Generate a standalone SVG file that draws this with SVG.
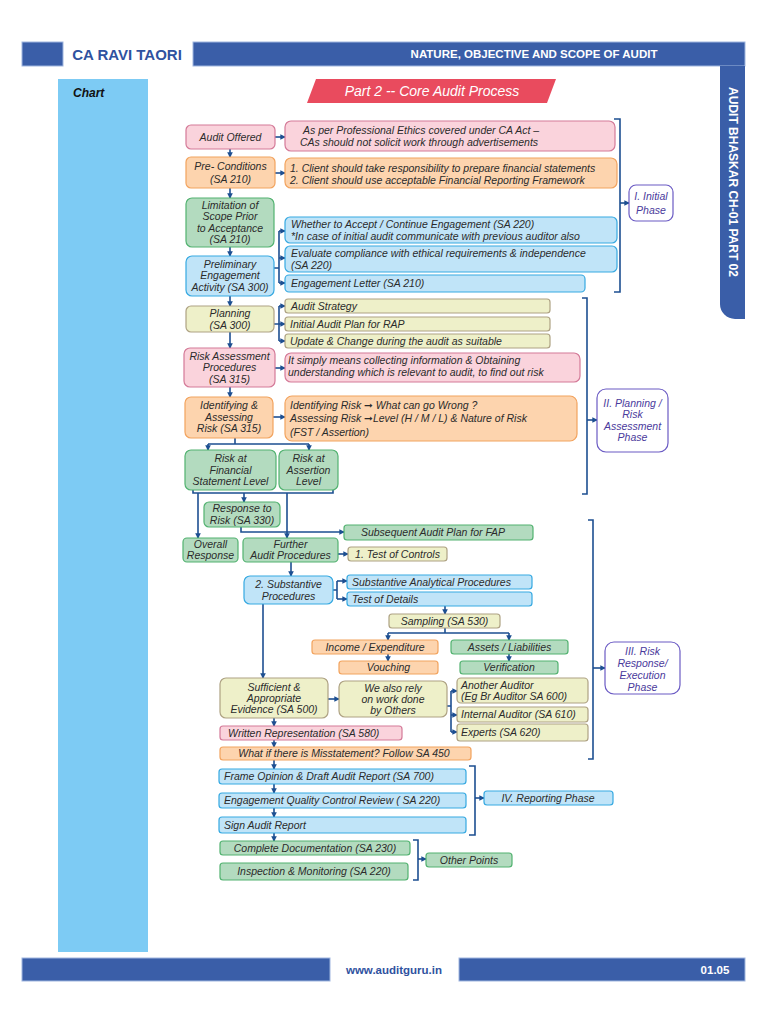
<svg xmlns="http://www.w3.org/2000/svg" width="768" height="1024" viewBox="0 0 768 1024">
<defs>
<marker id="a" viewBox="0 0 6 6" refX="5" refY="3" markerWidth="3.5" markerHeight="3.5" orient="auto"><path d="M0,0 L6,3 L0,6z" fill="#1d4f91"/></marker>
<style>
.t{font-family:"Liberation Sans",Arial,"DejaVu Sans",sans-serif;font-style:italic;font-size:10.5px;fill:#2b2b2b}
.m{text-anchor:middle}
.pk{fill:#fad3dc;stroke:#d47a98;stroke-width:1.2}
.or{fill:#fdd4ae;stroke:#f2a35e;stroke-width:1.2}
.gr{fill:#b3dbbf;stroke:#52b270;stroke-width:1.2}
.bl{fill:#c0e4f8;stroke:#36a9e1;stroke-width:1.2}
.yl{fill:#eef0c9;stroke:#aea283;stroke-width:1.2}
.ph{fill:#fff;stroke:#6b5bc4;stroke-width:1.2}
.pt{fill:#4a3a9c}
.cn path{fill:none;stroke:#1d4f91;stroke-width:1.6}
.ar{marker-end:url(#a)}
.hd{font-family:"Liberation Sans",Arial,sans-serif;font-weight:bold}
.ttl{font-family:"Liberation Sans",Arial,sans-serif;font-style:italic;font-size:14px;fill:#fff;text-anchor:middle}
</style>
</defs>
<rect width="768" height="1024" fill="#fff"/>
<!-- header -->
<g id="header">
<rect x="22" y="42" width="41" height="24" fill="#3a5ea8" stroke="#9fb6df" stroke-width="1"/>
<rect x="193" y="42" width="552" height="24" fill="#3a5ea8" stroke="#9fb6df" stroke-width="1"/>
<path d="M720,66 H745 V319 H735 A15,15 0 0 1 720,304 Z" fill="#3a5ea8"/>
<text class="hd" x="127" y="60" font-size="15" fill="#2f52a0" text-anchor="middle">CA RAVI TAORI</text>
<text class="hd" x="534" y="58" font-size="11.5" fill="#fff" text-anchor="middle">NATURE, OBJECTIVE AND SCOPE OF AUDIT</text>
<text class="hd" transform="translate(728.5,182) rotate(90)" font-size="12" fill="#fff" text-anchor="middle">AUDIT BHASKAR CH-01 PART 02</text>
</g>
<g id="sidebar">
<rect x="58" y="79" width="90" height="873" fill="#7dcbf4"/>
<text x="73" y="97" font-family="Liberation Sans,Arial,sans-serif" font-style="italic" font-weight="bold" font-size="12" fill="#111">Chart</text>
</g>
<g id="title">
<polygon points="316,79 556,79 547,103 307,103" fill="#e94b5e"/>
<text class="ttl" x="432" y="96">Part 2 -- Core Audit Process</text>
</g>
<g id="footer">
<rect x="22" y="958" width="308" height="23" fill="#3a5ea8" stroke="#9fb6df" stroke-width="1"/>
<rect x="459" y="958" width="286" height="23" fill="#3a5ea8" stroke="#9fb6df" stroke-width="1"/>
<text class="hd" x="394" y="974" font-size="11.5" fill="#2f52a0" text-anchor="middle">www.auditguru.in</text>
<text class="hd" x="715" y="974" font-size="11.5" fill="#fff" text-anchor="middle">01.05</text>
</g>

<!-- connectors -->
<g id="connectors" class="cn">
<path class="ar" d="M230,149 V157"/>
<path class="ar" d="M230,188 V198"/>
<path class="ar" d="M230,247 V256"/>
<path class="ar" d="M230,296 V306"/>
<path class="ar" d="M230,332 V348"/>
<path class="ar" d="M230,387 V397"/>
<path class="ar" d="M275,137 H285"/>
<path class="ar" d="M275,173 H285"/>
<path class="ar" d="M275,368 H285"/>
<path class="ar" d="M273,417 H285"/>
<path d="M614,119 H620 V292 H614"/>
<path class="ar" d="M620,203 H629"/>
<path d="M274,268 H279 M279,231 V283"/>
<path class="ar" d="M279,231 H285"/>
<path class="ar" d="M279,258 H285"/>
<path class="ar" d="M279,283 H285"/>
<path d="M274,324 H279 M279,306 V341"/>
<path class="ar" d="M279,306 H285"/>
<path class="ar" d="M279,324 H285"/>
<path class="ar" d="M279,341 H285"/>
<path d="M582,298 H587 V494 H582"/>
<path class="ar" d="M587,420 H597"/>
<path d="M235,438 V444 M208,444 H309"/>
<path class="ar" d="M208,444 V450"/>
<path class="ar" d="M309,444 V450"/>
<path d="M193,490 V493 H333 V490"/>
<path class="ar" d="M198,493 V538"/>
<path class="ar" d="M244,493 V502"/>
<path class="ar" d="M287,493 V538"/>
<path class="ar" d="M241,527 V532 H344"/>
<path class="ar" d="M338,554 H348"/>
<path class="ar" d="M291,562 V576"/>
<path d="M333,590 H337 M337,581 V599"/>
<path class="ar" d="M337,581 H347"/>
<path class="ar" d="M337,599 H347"/>
<path class="ar" d="M445,606 V614"/>
<path d="M445,628 V633 M388,633 H509"/>
<path class="ar" d="M388,633 V640"/>
<path class="ar" d="M509,633 V640"/>
<path class="ar" d="M388,654 V661"/>
<path class="ar" d="M509,654 V661"/>
<path class="ar" d="M263,604 V678"/>
<path class="ar" d="M328,699 H339"/>
<path d="M447,706 H451 M451,691 V732"/>
<path class="ar" d="M451,691 H457"/>
<path class="ar" d="M451,715 H457"/>
<path class="ar" d="M451,732 H457"/>
<path class="ar" d="M274,718 V726"/>
<path class="ar" d="M274,740 V747"/>
<path class="ar" d="M274,760 V769"/>
<path class="ar" d="M274,784 V793"/>
<path class="ar" d="M274,808 V817"/>
<path class="ar" d="M274,833 V841"/>
<path d="M588,520 H593 V759 H588"/>
<path class="ar" d="M593,668 H605"/>
<path d="M469,766 H475 V835 H469"/>
<path class="ar" d="M475,798 H484"/>
<path d="M413,840 H418 V880 H413"/>
<path class="ar" d="M418,859 H426"/>
</g>

<!-- nodes -->
<g id="n-audit-offered"><rect class="pk" x="186" y="125" width="89" height="24" rx="5"/><text class="t m" x="230.5" y="140.5">Audit Offered</text></g>
<g id="n-ethics"><rect class="pk" x="285" y="121" width="330" height="30" rx="6"/><text class="t" x="303" y="133.5">As per Professional Ethics covered under CA Act –</text><text class="t" x="300" y="145.5">CAs should not solicit work through advertisements</text></g>
<g id="n-preconditions"><rect class="or" x="186" y="157" width="89" height="31" rx="5"/><text class="t m" x="230.5" y="169.5">Pre- Conditions</text><text class="t m" x="230.5" y="183">(SA 210)</text></g>
<g id="n-client"><rect class="or" x="285" y="158" width="332" height="30" rx="6"/><text class="t" x="290" y="171.5">1. Client should take responsibility to prepare financial statements</text><text class="t" x="290" y="184">2. Client should use acceptable Financial Reporting Framework</text></g>
<g id="n-limitation"><rect class="gr" x="186" y="198" width="88" height="49" rx="6"/><text class="t m" x="230" y="208.5">Limitation of</text><text class="t m" x="230" y="220">Scope Prior</text><text class="t m" x="230" y="231.5">to Acceptance</text><text class="t m" x="230" y="243">(SA 210)</text></g>
<g id="n-preliminary"><rect class="bl" x="186" y="256" width="88" height="40" rx="6"/><text class="t m" x="230" y="267.5">Preliminary</text><text class="t m" x="230" y="279">Engagement</text><text class="t m" x="230" y="290.5">Activity (SA 300)</text></g>
<g id="n-whether"><rect class="bl" x="285" y="217" width="332" height="26" rx="5"/><text class="t" x="291" y="227.5">Whether to Accept / Continue Engagement (SA 220)</text><text class="t" x="291" y="239.5">*In case of initial audit communicate with previous auditor also</text></g>
<g id="n-evaluate"><rect class="bl" x="285" y="246" width="332" height="26" rx="5"/><text class="t" x="291" y="256.5">Evaluate compliance with ethical requirements &amp; independence</text><text class="t" x="291" y="268.5">(SA 220)</text></g>
<g id="n-letter"><rect class="bl" x="285" y="275" width="300" height="17" rx="4"/><text class="t" x="291" y="287">Engagement Letter (SA 210)</text></g>
<g id="n-planning"><rect class="yl" x="186" y="306" width="88" height="26" rx="5"/><text class="t m" x="230" y="316.5">Planning</text><text class="t m" x="230" y="328.5">(SA 300)</text></g>
<g id="n-strategy"><rect class="yl" x="285" y="299" width="265" height="14" rx="3"/><text class="t" x="291" y="309.5">Audit Strategy</text></g>
<g id="n-initial-plan"><rect class="yl" x="285" y="317" width="265" height="14" rx="3"/><text class="t" x="290" y="327.5">Initial Audit Plan for RAP</text></g>
<g id="n-update"><rect class="yl" x="285" y="334" width="265" height="14" rx="3"/><text class="t" x="290" y="344.5">Update &amp; Change during the audit as suitable</text></g>
<g id="n-risk-assess"><rect class="pk" x="184" y="348" width="91" height="39" rx="6"/><text class="t m" x="229.5" y="359.5">Risk Assessment</text><text class="t m" x="229.5" y="371">Procedures</text><text class="t m" x="229.5" y="382.5">(SA 315)</text></g>
<g id="n-simply"><rect class="pk" x="285" y="353" width="295" height="29" rx="6"/><text class="t" x="288" y="363.5">It simply means collecting information &amp; Obtaining</text><text class="t" x="288" y="376">understanding which is relevant to audit, to find out risk</text></g>
<g id="n-identifying"><rect class="or" x="185" y="397" width="88" height="41" rx="6"/><text class="t m" x="229" y="408.5">Identifying &amp;</text><text class="t m" x="229" y="420.5">Assessing</text><text class="t m" x="229" y="432">Risk (SA 315)</text></g>
<g id="n-identifying-desc"><rect class="or" x="285" y="396" width="292" height="45" rx="7"/><text class="t" x="290" y="408.5">Identifying Risk ➞ What can go Wrong ?</text><text class="t" x="290" y="422">Assessing Risk ➞Level (H / M / L) &amp; Nature of Risk</text><text class="t" x="290" y="435.5">(FST / Assertion)</text></g>
<g id="n-risk-fs"><rect class="gr" x="185" y="450" width="91" height="40" rx="6"/><text class="t m" x="230.5" y="461.5">Risk at</text><text class="t m" x="230.5" y="473.5">Financial</text><text class="t m" x="230.5" y="484.5">Statement Level</text></g>
<g id="n-risk-assertion"><rect class="gr" x="279" y="450" width="59" height="40" rx="6"/><text class="t m" x="308.5" y="461.5">Risk at</text><text class="t m" x="308.5" y="473.5">Assertion</text><text class="t m" x="308.5" y="484.5">Level</text></g>
<g id="n-response"><rect class="gr" x="204" y="502" width="76" height="25" rx="5"/><text class="t m" x="242" y="511.5">Response to</text><text class="t m" x="242" y="523.5">Risk (SA 330)</text></g>
<g id="n-subsequent"><rect class="gr" x="344" y="525" width="189" height="15" rx="3"/><text class="t m" x="433" y="536">Subsequent Audit Plan for FAP</text></g>
<g id="n-overall"><rect class="gr" x="183" y="538" width="55" height="24" rx="4"/><text class="t m" x="210.5" y="547.5">Overall</text><text class="t m" x="210.5" y="558.5">Response</text></g>
<g id="n-further"><rect class="gr" x="243" y="538" width="95" height="24" rx="4"/><text class="t m" x="290.5" y="548">Further</text><text class="t m" x="290.5" y="559">Audit Procedures</text></g>
<g id="n-test-controls"><rect class="yl" x="348" y="547" width="99" height="14" rx="3"/><text class="t m" x="397.5" y="557.5">1. Test of Controls</text></g>
<g id="n-substantive"><rect class="bl" x="244" y="576" width="89" height="28" rx="6"/><text class="t m" x="288.5" y="587.5">2. Substantive</text><text class="t m" x="288.5" y="600">Procedures</text></g>
<g id="n-sap"><rect class="bl" x="347" y="575" width="185" height="14" rx="3"/><text class="t" x="352" y="585.5">Substantive Analytical Procedures</text></g>
<g id="n-tod"><rect class="bl" x="347" y="592" width="185" height="14" rx="3"/><text class="t" x="352" y="602.5">Test of Details</text></g>
<g id="n-sampling"><rect class="yl" x="389" y="614" width="111" height="14" rx="3"/><text class="t m" x="444.5" y="624.5">Sampling (SA 530)</text></g>
<g id="n-income"><rect class="or" x="312" y="640" width="126" height="14" rx="3"/><text class="t m" x="375" y="650.5">Income / Expenditure</text></g>
<g id="n-assets"><rect class="gr" x="451" y="640" width="117" height="14" rx="3"/><text class="t m" x="509.5" y="650.5">Assets / Liabilities</text></g>
<g id="n-vouching"><rect class="or" x="339" y="661" width="99" height="13" rx="3"/><text class="t m" x="388.5" y="671">Vouching</text></g>
<g id="n-verification"><rect class="gr" x="460" y="661" width="98" height="13" rx="3"/><text class="t m" x="509" y="671">Verification</text></g>
<g id="n-sufficient"><rect class="yl" x="220" y="678" width="108" height="40" rx="6"/><text class="t m" x="274" y="690.5">Sufficient &amp;</text><text class="t m" x="274" y="701.5">Appropriate</text><text class="t m" x="274" y="712.5">Evidence  (SA 500)</text></g>
<g id="n-rely"><rect class="yl" x="339" y="681" width="108" height="36" rx="6"/><text class="t m" x="393" y="691.5">We also rely</text><text class="t m" x="393" y="702.5">on work done</text><text class="t m" x="393" y="713.5">by Others</text></g>
<g id="n-another"><rect class="yl" x="457" y="678" width="131" height="25" rx="4"/><text class="t" x="461" y="688.5">Another Auditor</text><text class="t" x="461" y="699.5">(Eg Br Auditor SA 600)</text></g>
<g id="n-internal"><rect class="yl" x="457" y="707" width="131" height="15" rx="3"/><text class="t" x="461" y="718">Internal Auditor (SA 610)</text></g>
<g id="n-experts"><rect class="yl" x="457" y="724" width="131" height="17" rx="3"/><text class="t" x="461" y="736">Experts (SA 620)</text></g>
<g id="n-written"><rect class="pk" x="220" y="726" width="182" height="14" rx="3"/><text class="t" x="228" y="736.5">Written Representation (SA 580)</text></g>
<g id="n-misstatement"><rect class="or" x="220" y="747" width="251" height="13" rx="3"/><text class="t m" x="344" y="757">What if there is Misstatement? Follow SA 450</text></g>
<g id="n-frame"><rect class="bl" x="219" y="769" width="247" height="15" rx="3"/><text class="t" x="224" y="780">Frame Opinion &amp; Draft Audit Report (SA 700)</text></g>
<g id="n-eqcr"><rect class="bl" x="219" y="793" width="247" height="15" rx="3"/><text class="t" x="224" y="804">Engagement Quality Control Review ( SA 220)</text></g>
<g id="n-sign"><rect class="bl" x="219" y="817" width="247" height="16" rx="3"/><text class="t" x="224" y="828.5">Sign Audit Report</text></g>
<g id="n-complete"><rect class="gr" x="220" y="841" width="190" height="14" rx="3"/><text class="t m" x="315" y="851.5">Complete Documentation (SA 230)</text></g>
<g id="n-inspection"><rect class="gr" x="220" y="863" width="188" height="17" rx="3"/><text class="t m" x="314" y="875">Inspection &amp; Monitoring (SA 220)</text></g>
<g id="n-phase1"><rect class="ph" x="629" y="185" width="44" height="36" rx="7"/><text class="t m pt" x="651" y="200">I. Initial</text><text class="t m pt" x="651" y="213.5">Phase</text></g>
<g id="n-phase2"><rect class="ph" x="597" y="389" width="71" height="63" rx="9"/><text class="t m pt" x="632.5" y="406.5">II. Planning /</text><text class="t m pt" x="632.5" y="418">Risk</text><text class="t m pt" x="632.5" y="429.5">Assessment</text><text class="t m pt" x="632.5" y="441">Phase</text></g>
<g id="n-phase3"><rect class="ph" x="605" y="642" width="75" height="52" rx="9"/><text class="t m pt" x="642.5" y="654.5">III. Risk</text><text class="t m pt" x="642.5" y="666.5">Response/</text><text class="t m pt" x="642.5" y="678.5">Execution</text><text class="t m pt" x="642.5" y="690.5">Phase</text></g>
<g id="n-phase4"><rect class="bl" x="484" y="791" width="129" height="14" rx="3"/><text class="t m" x="548" y="801.5">IV. Reporting Phase</text></g>
<g id="n-other"><rect class="gr" x="426" y="853" width="86" height="14" rx="3"/><text class="t m" x="469" y="863.5">Other Points</text></g>
</svg>
